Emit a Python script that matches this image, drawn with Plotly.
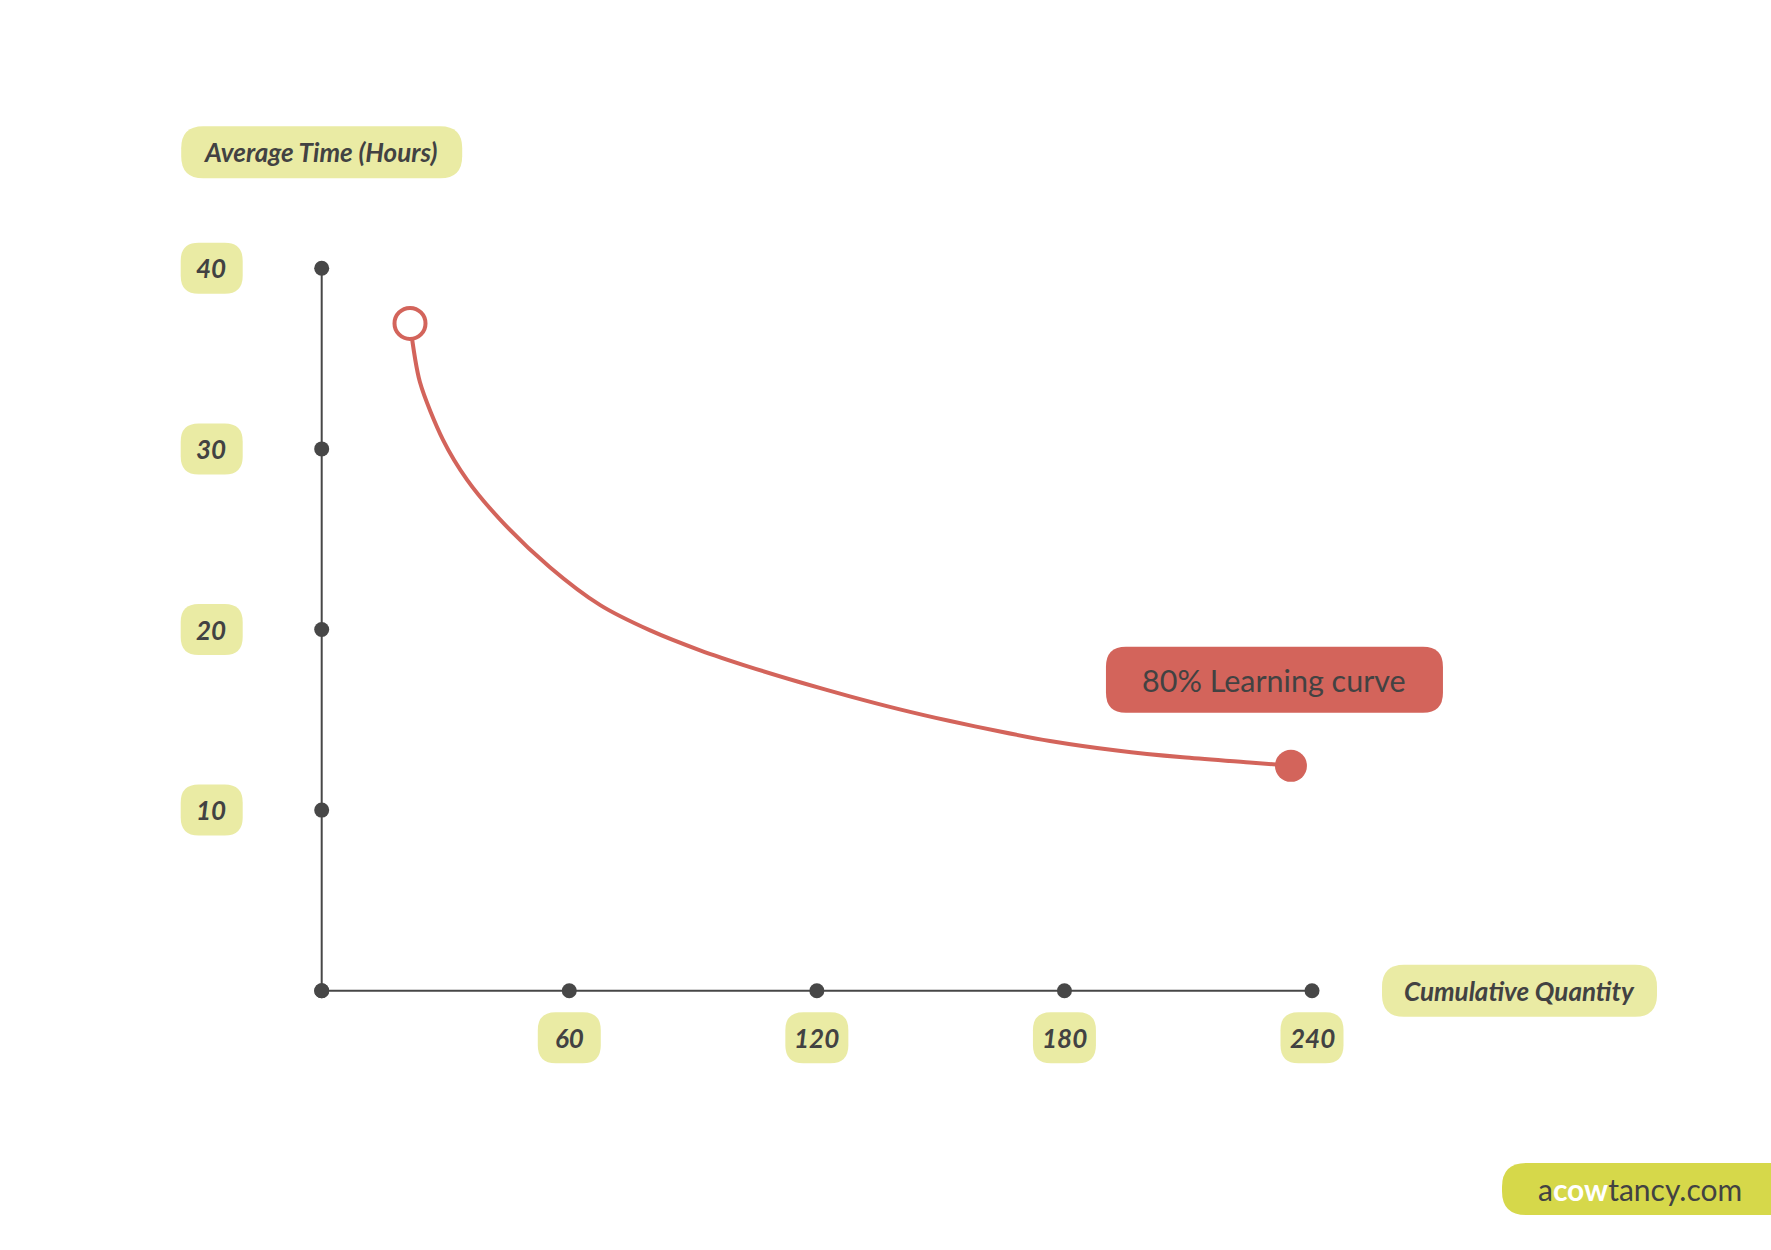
import plotly.graph_objects as go

# ---- data ----
quantity = [21.4, 23.8, 29.4, 35.2, 43.2, 55.3, 67.5, 79.6, 91.7, 103.8, 115.9,
            128.0, 140.1, 152.3, 164.4, 176.5, 192.7, 208.7, 224.9, 234.9]
avg_time = [36.95, 33.7, 30.5, 28.3, 26.1, 23.45, 21.35, 19.95, 18.85, 17.92, 17.08,
            16.3, 15.58, 14.93, 14.35, 13.83, 13.3, 12.92, 12.64, 12.45]
x_ticks = [0, 60, 120, 180, 240]
y_ticks = [0, 10, 20, 30, 40]
x_tick_labels = ["", "60", "120", "180", "240"]
y_tick_labels = ["", "10", "20", "30", "40"]
x_title = "Cumulative Quantity"
y_title = "Average Time (Hours)"
series_name = "80% Learning curve"

# ---- style ----
RED = "#d3645b"
AXIS = "#474747"
TEXT = "#424242"
BOX = "#eaeba4"
WM = "#d6d84a"
W, H = 1771, 1250

label_font = dict(family="Lato", size=26, color=TEXT, weight="bold", style="italic")


def rrect(cx, cy, w, h, r, left_only=False):
    x0, x1 = cx - w / 2, cx + w / 2
    y0, y1 = cy - h / 2, cy + h / 2
    if left_only:
        return (f"M {x0 + r},{y0} L {x1},{y0} L {x1},{y1} L {x0 + r},{y1} "
                f"Q {x0},{y1} {x0},{y1 - r} L {x0},{y0 + r} Q {x0},{y0} {x0 + r},{y0} Z")
    return (f"M {x0 + r},{y0} L {x1 - r},{y0} Q {x1},{y0} {x1},{y0 + r} "
            f"L {x1},{y1 - r} Q {x1},{y1} {x1 - r},{y1} L {x0 + r},{y1} "
            f"Q {x0},{y1} {x0},{y1 - r} L {x0},{y0 + r} Q {x0},{y0} {x0 + r},{y0} Z")


fig = go.Figure()

# axes drawn as traces (lines + tick dots)
fig.add_trace(go.Scatter(x=[x_ticks[0]] * 2, y=[y_ticks[-1], y_ticks[0]], mode="lines",
                         line=dict(color=AXIS, width=2), hoverinfo="skip", cliponaxis=False))
fig.add_trace(go.Scatter(x=[x_ticks[0], x_ticks[-1]], y=[y_ticks[0]] * 2, mode="lines",
                         line=dict(color=AXIS, width=2), hoverinfo="skip", cliponaxis=False))
fig.add_trace(go.Scatter(x=x_ticks, y=[y_ticks[0]] * len(x_ticks), mode="markers",
                         marker=dict(color=AXIS, size=15), hoverinfo="skip", cliponaxis=False))
fig.add_trace(go.Scatter(x=[x_ticks[0]] * len(y_ticks), y=y_ticks, mode="markers",
                         marker=dict(color=AXIS, size=15), hoverinfo="skip", cliponaxis=False))

# learning curve
fig.add_trace(go.Scatter(x=quantity, y=avg_time, mode="lines",
                         line=dict(color=RED, width=4, shape="spline", smoothing=0.8),
                         name=series_name, cliponaxis=False))
fig.add_trace(go.Scatter(x=[quantity[0]], y=[avg_time[0]], mode="markers",
                         marker=dict(color="white", size=31, line=dict(color=RED, width=4)),
                         hoverinfo="skip", cliponaxis=False))
fig.add_trace(go.Scatter(x=[quantity[-1]], y=[avg_time[-1]], mode="markers",
                         marker=dict(color=RED, size=32), hoverinfo="skip", cliponaxis=False))

shapes = []
annotations = []

# y tick label boxes
for v, lab in zip(y_ticks, y_tick_labels):
    if not lab:
        continue
    shapes.append(dict(type="path", xref="x", yref="y", xsizemode="pixel", ysizemode="pixel",
                       xanchor=x_ticks[0], yanchor=v, path=rrect(-110, 0, 62, 51, 18),
                       fillcolor=BOX, line=dict(width=0), layer="above"))
    annotations.append(dict(x=x_ticks[0], y=v, xref="x", yref="y", xshift=-111, text=lab,
                            showarrow=False, font=label_font, xanchor="center", yanchor="middle"))

# x tick label boxes
for v, lab in zip(x_ticks, x_tick_labels):
    if not lab:
        continue
    shapes.append(dict(type="path", xref="x", yref="y", xsizemode="pixel", ysizemode="pixel",
                       xanchor=v, yanchor=y_ticks[0], path=rrect(0, -47, 63, 51, 18),
                       fillcolor=BOX, line=dict(width=0), layer="above"))
    annotations.append(dict(x=v, y=y_ticks[0], xref="x", yref="y", yshift=-47, text=lab,
                            showarrow=False, font=label_font, xanchor="center", yanchor="middle"))

# axis titles
shapes.append(dict(type="path", xref="x", yref="y", xsizemode="pixel", ysizemode="pixel",
                   xanchor=x_ticks[0], yanchor=y_ticks[-1], path=rrect(0, 116, 281, 52, 22),
                   fillcolor=BOX, line=dict(width=0), layer="above"))
annotations.append(dict(x=x_ticks[0], y=y_ticks[-1], xref="x", yref="y", yshift=116, xshift=-2,
                        text=y_title, showarrow=False, font=label_font,
                        xanchor="center", yanchor="middle"))
shapes.append(dict(type="path", xref="x", yref="y", xsizemode="pixel", ysizemode="pixel",
                   xanchor=x_ticks[-1], yanchor=y_ticks[0], path=rrect(207.5, 0, 275, 52, 22),
                   fillcolor=BOX, line=dict(width=0), layer="above"))
annotations.append(dict(x=x_ticks[-1], y=y_ticks[0], xref="x", yref="y", xshift=207,
                        text=x_title, showarrow=False, font=label_font,
                        xanchor="center", yanchor="middle"))

# series label
shapes.append(dict(type="path", xref="x", yref="y", xsizemode="pixel", ysizemode="pixel",
                   xanchor=quantity[-1], yanchor=avg_time[-1], path=rrect(-16.5, 86, 337, 66, 20),
                   fillcolor=RED, line=dict(width=0), layer="above"))
annotations.append(dict(x=quantity[-1], y=avg_time[-1], xref="x", yref="y", xshift=-16.5, yshift=86,
                        text=series_name, showarrow=False,
                        font=dict(family="Lato", size=30.5, color=TEXT),
                        xanchor="center", yanchor="middle"))

# watermark
shapes.append(dict(type="path", xref="paper", yref="paper", xsizemode="pixel", ysizemode="pixel",
                   xanchor=1, yanchor=1 - 1189 / H, path=rrect(-127, 0, 284, 52, 24, left_only=True),
                   fillcolor=WM, line=dict(width=0), layer="above"))
annotations.append(dict(x=(1537 + 1742) / 2 / W, y=1 - 1189 / H, xref="paper", yref="paper",
                        text='a<span style="color:white"><b>cow</b></span>tancy.com',
                        showarrow=False, font=dict(family="Lato", size=30, color=TEXT),
                        xanchor="center", yanchor="middle"))

# axis ranges chosen so the plot area fills the whole canvas
px_per_x = (1312 - 321.7) / (x_ticks[-1] - x_ticks[0])
px_per_y = (990.7 - 268.3) / (y_ticks[-1] - y_ticks[0])
x_range = [-321.7 / px_per_x, (W - 321.7) / px_per_x]
y_range = [-(H - 990.7) / px_per_y, 990.7 / px_per_y]

fig.update_layout(
    width=W, height=H, autosize=False,
    margin=dict(l=0, r=0, t=0, b=0, pad=0),
    paper_bgcolor="white", plot_bgcolor="white",
    showlegend=False,
    xaxis=dict(visible=False, range=x_range, fixedrange=True),
    yaxis=dict(visible=False, range=y_range, fixedrange=True),
    shapes=shapes, annotations=annotations,
)

fig.write_html("out.html", post_script="document.body.style.margin='0';",
               config={"displayModeBar": False})
